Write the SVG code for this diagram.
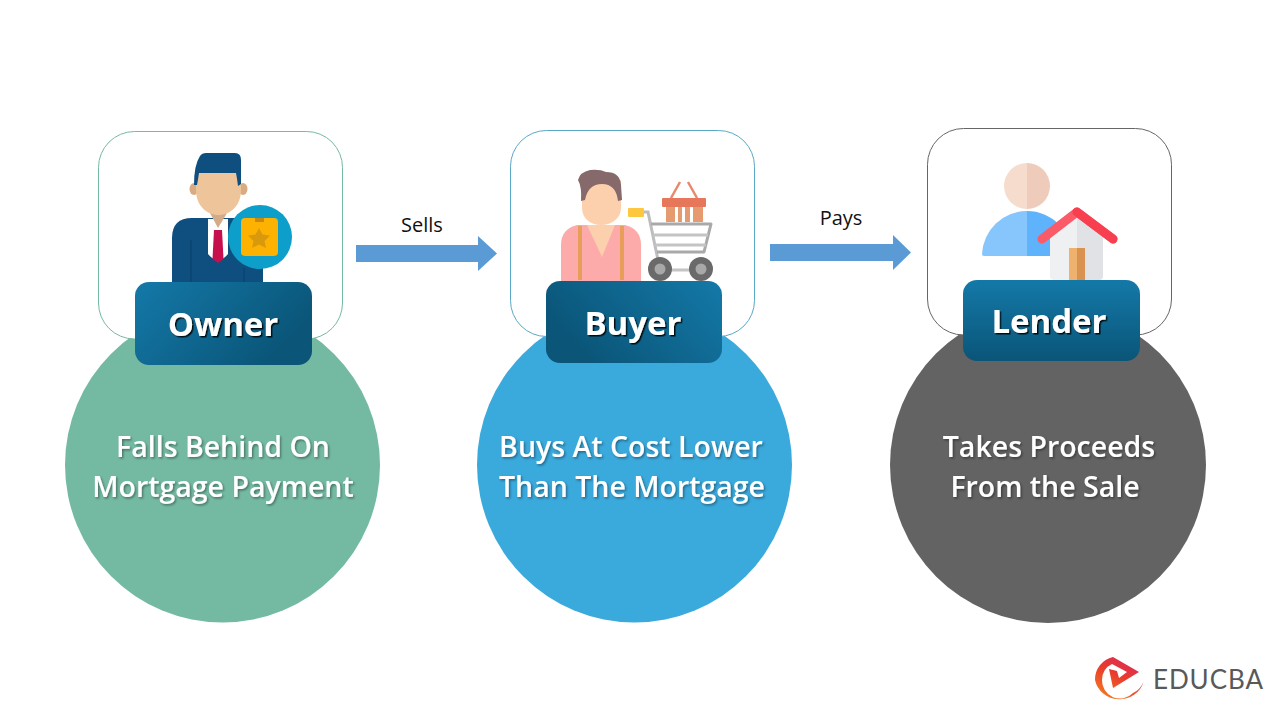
<svg xmlns="http://www.w3.org/2000/svg" width="1280" height="720" viewBox="0 0 1280 720">
<style>
.card{fill:#fff;stroke-width:1}
.title{font-family:"Open Sans","Noto Sans",sans-serif;font-weight:700;font-size:33px;fill:#fff;text-anchor:middle;filter:url(#hard)}
.desc{font-family:"Open Sans","Noto Sans",sans-serif;font-weight:600;font-size:28.500px;fill:#fff;text-anchor:middle;filter:url(#soft)}
.lbl{font-family:"Open Sans","Noto Sans",sans-serif;font-size:20px;fill:#111;text-anchor:middle}
.arrow{fill:#5b9bd5}
</style>
<defs>
<linearGradient id="gL" x1="0" y1="0" x2="1" y2="0.45"><stop offset="0" stop-color="#1479a8"/><stop offset="1" stop-color="#0a5578"/></linearGradient>
<linearGradient id="gR" x1="0" y1="0.45" x2="1" y2="0"><stop offset="0" stop-color="#0a5578"/><stop offset="1" stop-color="#1479a8"/></linearGradient>
<linearGradient id="gV" x1="0" y1="0" x2="0" y2="1"><stop offset="0" stop-color="#1479a8"/><stop offset="1" stop-color="#0a5578"/></linearGradient>
<linearGradient id="gLogo" x1="0.2" y1="1" x2="0.8" y2="0"><stop offset="0" stop-color="#f47c20"/><stop offset="0.55" stop-color="#e93a2e"/><stop offset="1" stop-color="#d92a62"/></linearGradient>
<filter id="hard" x="-20%" y="-20%" width="140%" height="140%"><feDropShadow dx="1.500" dy="1.500" stdDeviation="0.400" flood-color="#000" flood-opacity="0.850"/></filter>
<filter id="soft" x="-10%" y="-20%" width="120%" height="140%"><feDropShadow dx="1.300" dy="1.500" stdDeviation="0.800" flood-color="#000" flood-opacity="0.400"/></filter>
</defs>
<rect width="1280" height="720" fill="#fff"/>

<g id="connectors">
<path class="arrow" d="M356 245H478V236L497 253.500L478 271V262H356Z"/>
<path class="arrow" d="M770 244H893V235L911 252.500L893 270V261H770Z"/>
<text class="lbl" x="422" y="232">Sells</text>
<text class="lbl" x="841" y="225">Pays</text>
</g>

<g id="owner">
<circle cx="222.500" cy="465" r="157.500" fill="#74baa3"/>
<rect class="card" x="98.500" y="131.500" width="244" height="207.500" rx="36" stroke="#74baa3"/>
<path d="M172 283V238Q172 218 192 218H248V283Z" fill="#0f4f7f"/>
<path d="M241 283V262H263V283Z" fill="#0f4f7f"/>
<path d="M191 240V283M244 268V283" stroke="#0a3f66" stroke-width="1"/>
<path d="M208 219H228V254Q218 266 208 254Z" fill="#fff"/>
<path d="M210 213H227L218 228Z" fill="#d3ab88"/>
<path d="M214 230H222L223.500 259L218 263L212.500 259Z" fill="#c70f4e"/>
<ellipse cx="194" cy="189" rx="4.500" ry="6" fill="#d9ab82"/>
<ellipse cx="243" cy="189" rx="4.500" ry="6" fill="#d9ab82"/>
<path d="M196 172H241V190C241 206 230 215 218.500 215C207 215 196 206 196 190Z" fill="#eec59a"/>
<path d="M194 185Q194 165 200 156Q202 153 206 153H235Q241 153 241 160V184L238 186Q237 178 236 173H199Q198 180 197 185Z" fill="#0f4f7f"/>
<circle cx="260" cy="237" r="32" fill="#0d9fc9"/>
<rect x="241" y="218" width="37" height="38" rx="4" fill="#fdb201"/>
<rect x="255" y="218" width="9" height="4" fill="#c88a10"/>
<path d="M259 228L262.500 234.500L270 235.500L264.500 241L266 248L259 244.500L252 248L253.500 241L248 235.500L255.500 234.500Z" fill="#d89a0c"/>
<rect x="135" y="282" width="177" height="83" rx="14" fill="url(#gL)"/>
<text class="title" x="223" y="336">Owner</text>
<text class="desc" x="223" y="457">Falls Behind On</text>
<text class="desc" x="223" y="497">Mortgage Payment</text>
</g>

<g id="buyer">
<circle cx="634.500" cy="465" r="157.500" fill="#3aa9dc"/>
<rect class="card" x="510.500" y="130.500" width="244" height="206" rx="36" stroke="#5aa8c8"/>
<path d="M561 281V245Q561 229 577 225H625Q641 229 641 245V281Z" fill="#fdaaaa"/>
<path d="M587 225H615L602 257Z" fill="#fcd0ad"/>
<path d="M578 226H582V280H578ZM620 226H624V280H620Z" fill="#e69e58"/>
<path d="M582 180H621V208C621 218 612 225 601 225C590 225 582 218 582 208Z" fill="#fcd0ad"/>
<path d="M581 201Q582 187 578 180Q580 172 590 170Q600 169 606 172Q620 172 621 185L622 200L618 201Q616 184 602 184Q588 184 585 200Z" fill="#86696a"/>
<path d="M671 198L680 182M697 198L688 182" stroke="#e7896b" stroke-width="2.500" fill="none"/>
<path d="M666 207H703V222H666Z" fill="#e59a6f"/>
<path d="M675 207H678V222H675ZM682 207H685V222H682ZM690 207H693V222H690Z" fill="#fff"/>
<rect x="662" y="198" width="44" height="9" rx="1" fill="#e7775b"/>
<rect x="628" y="208" width="16" height="9" rx="1" fill="#fdc83f"/>
<path d="M644 212H648L658 260" fill="none" stroke="#bdbdbd" stroke-width="3"/>
<path d="M651 224H711L704 252H657" fill="none" stroke="#a9a9a9" stroke-width="3" stroke-linejoin="round"/>
<path d="M653 235H708M655 245H706M660 270H700" stroke="#c4c4c4" stroke-width="3"/>
<circle cx="660" cy="269" r="12" fill="#6a6a6a"/><circle cx="660" cy="269" r="5.500" fill="#a8a8a8"/>
<circle cx="701" cy="269" r="12" fill="#6a6a6a"/><circle cx="701" cy="269" r="5.500" fill="#a8a8a8"/>
<rect x="546" y="281" width="176" height="82" rx="14" fill="url(#gR)"/>
<text class="title" x="633" y="335">Buyer</text>
<text class="desc" x="631" y="457">Buys At Cost Lower</text>
<text class="desc" x="632" y="497">Than The Mortgage</text>
</g>

<g id="lender">
<circle cx="1048" cy="465" r="158" fill="#636363"/>
<rect class="card" x="927.500" y="128.500" width="244" height="206.500" rx="36" stroke="#666"/>
<path d="M1027 163A23 23 0 0 0 1027 209Z" fill="#f6dccd"/>
<path d="M1027 163A23 23 0 0 1 1027 209Z" fill="#efcbbb"/>
<path d="M1027 211A45 45 0 0 0 982 254Q982 256 984 256H1027Z" fill="#86c6fd"/>
<path d="M1027 211A45 45 0 0 1 1072 256H1027Z" fill="#5fb2fc"/>
<path d="M1050 232L1077 214V280H1054Q1050 280 1050 276Z" fill="#eef0f2"/>
<path d="M1103 232L1077 214V280H1099Q1103 280 1103 276Z" fill="#e0e2e5"/>
<rect x="1069" y="248" width="8" height="32" fill="#efb26e"/>
<rect x="1077" y="248" width="8" height="32" fill="#d9924f"/>
<path d="M1042 239L1077 212L1113 239" fill="none" stroke="#fb5a68" stroke-width="9" stroke-linecap="round" stroke-linejoin="round"/>
<path d="M1077 212L1113 239" fill="none" stroke="#f83f4f" stroke-width="9" stroke-linecap="round"/>
<rect x="963" y="280" width="177" height="81" rx="14" fill="url(#gV)"/>
<text class="title" x="1049" y="333">Lender</text>
<text class="desc" x="1049" y="457">Takes Proceeds</text>
<text class="desc" x="1045" y="497">From the Sale</text>
</g>

<g id="logo">
<path d="M1143.500 682A25 24 0 0 1 1095 680A23 23 0 0 1 1113 657L1139 672L1113 688L1109 669L1117 671L1119 678L1127 672L1112 664A17 17 0 0 0 1102 680A18 18 0 0 0 1133 693Q1140 690 1143.500 682Z" fill="url(#gLogo)"/>
<text x="1153" y="689" font-family="Lato,'Open Sans',sans-serif" font-size="26" fill="#595959" textLength="110" lengthAdjust="spacing">EDUCBA</text>
</g>
</svg>
